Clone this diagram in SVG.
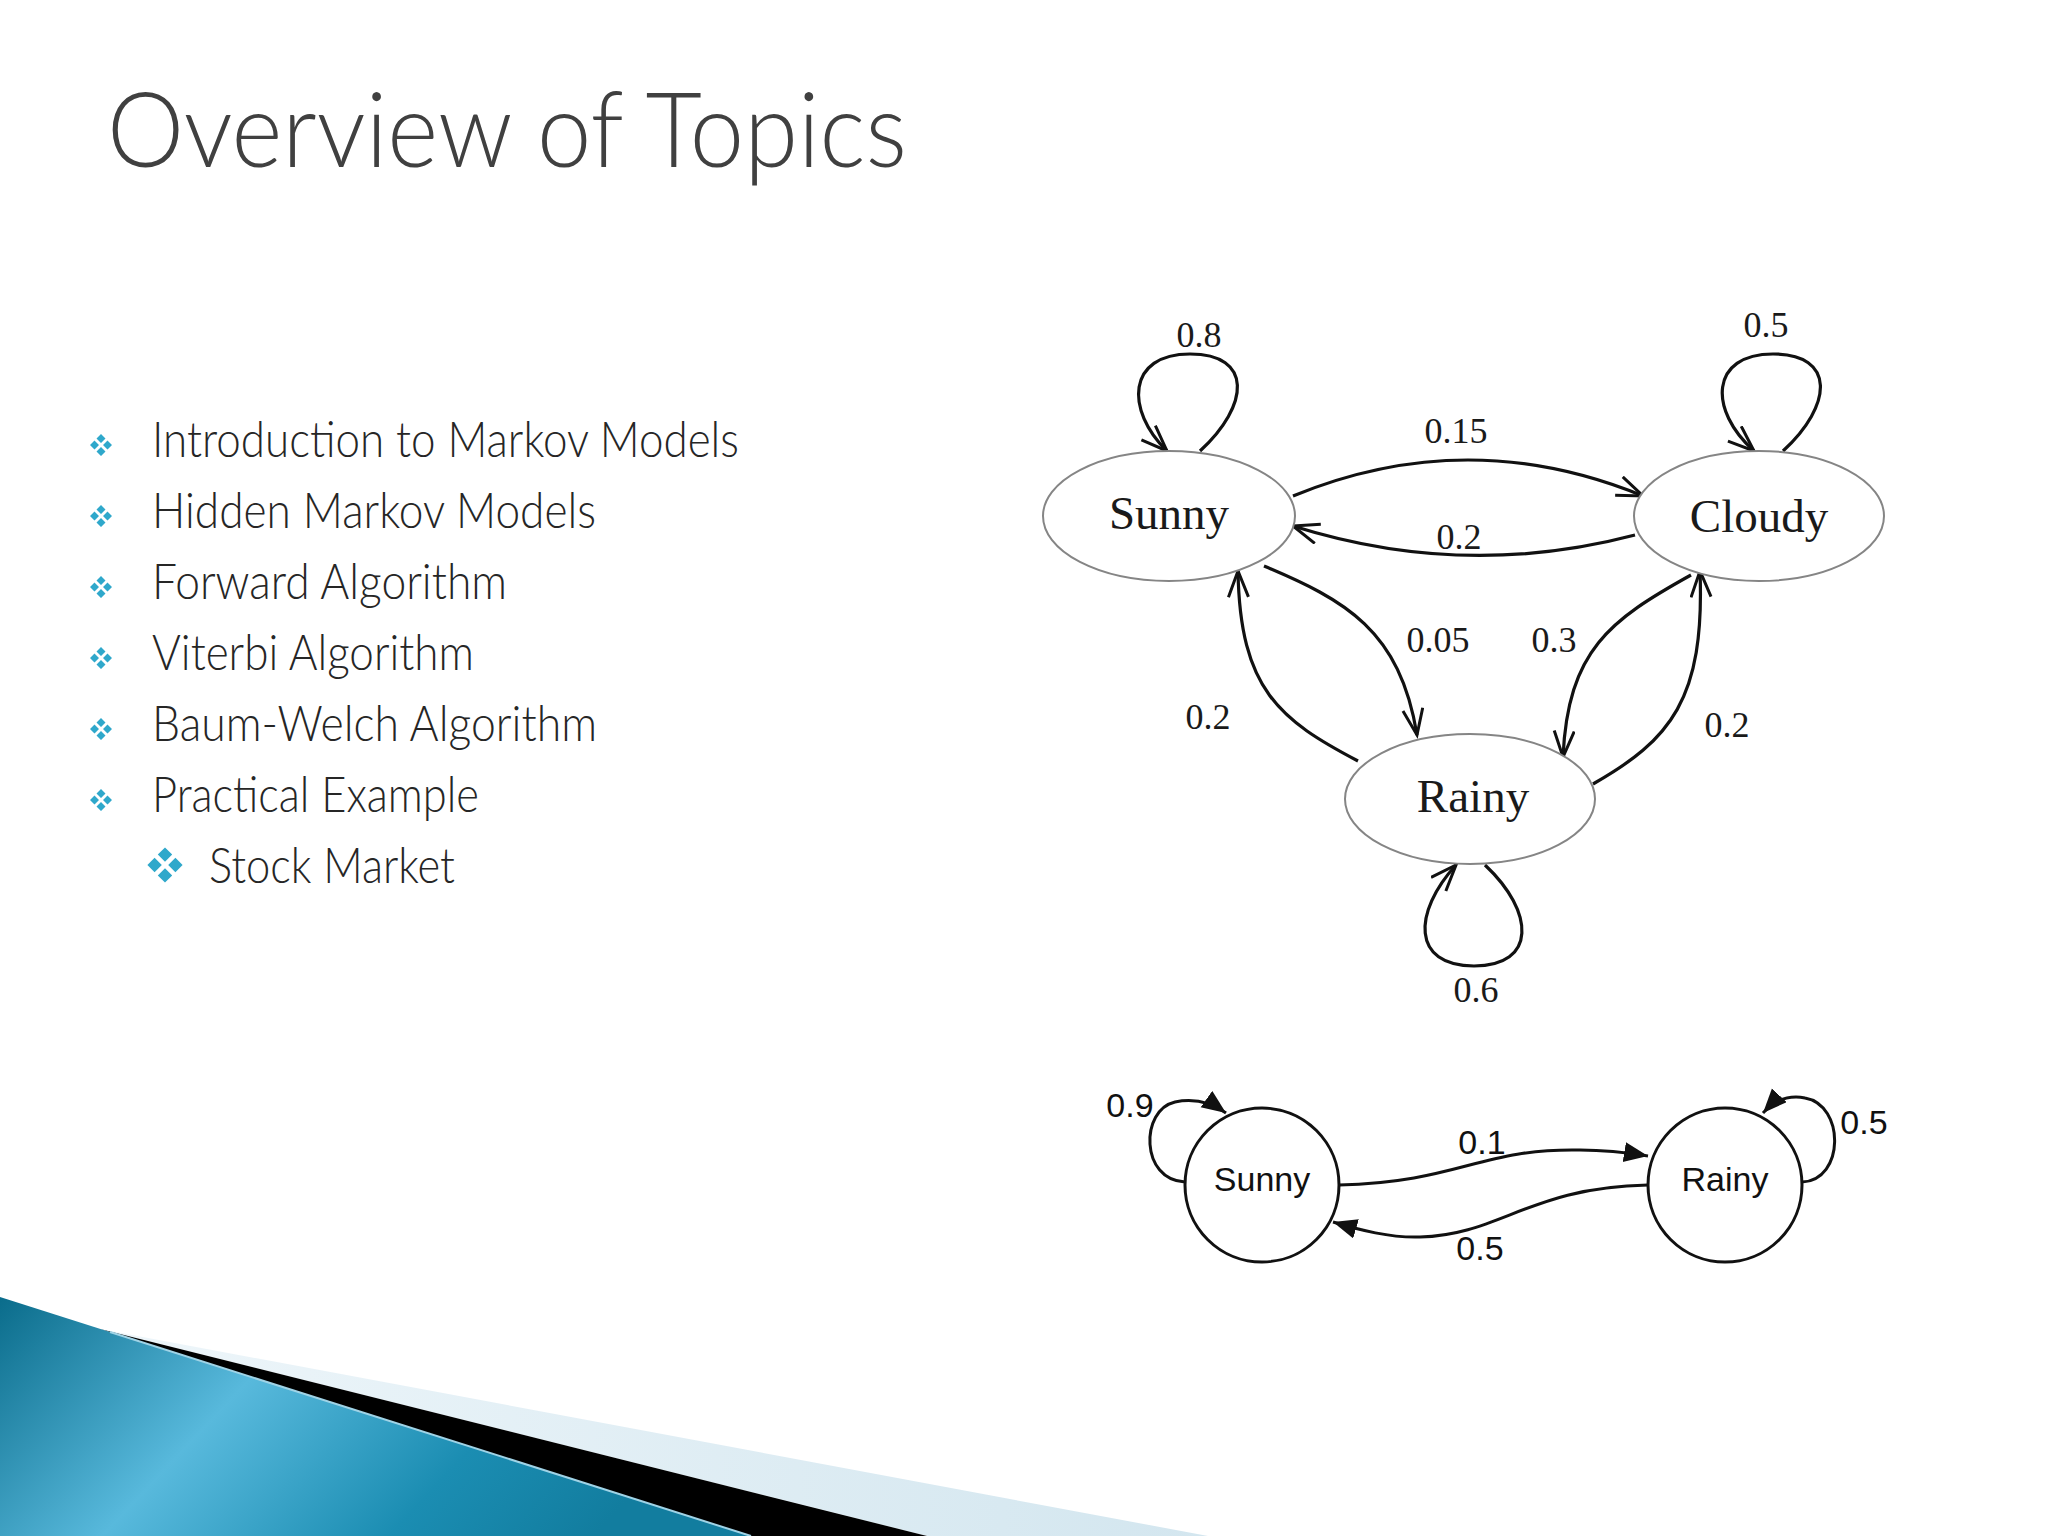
<svg xmlns="http://www.w3.org/2000/svg" width="2048" height="1536" viewBox="0 0 2048 1536">
<defs>
<style>
.title{font-family:Lato,"Open Sans","Liberation Sans",sans-serif;font-weight:300;font-size:104px;fill:#404040}
.item{font-family:Lato,"Open Sans","Liberation Sans",sans-serif;font-weight:300;font-size:49px;fill:#262626}
.bul{fill:#2fa8cb}
.ell{fill:#fff;stroke:#858585;stroke-width:2}
.nl{font-family:"Liberation Serif","Times New Roman",serif;font-size:47px;fill:#1a1a1a;text-anchor:middle}
.el{font-family:"Liberation Serif","Times New Roman",serif;font-size:36px;fill:#1a1a1a;text-anchor:middle}
.edge{fill:none;stroke:#111;stroke-width:3.2}
.e2{fill:none;stroke:#111;stroke-width:3}
.circ{fill:#fff;stroke:#111;stroke-width:3}
.nl2{font-family:"Liberation Sans",Arial,sans-serif;font-size:34px;fill:#111;text-anchor:middle}
</style>
<marker id="open" markerUnits="userSpaceOnUse" markerWidth="34" markerHeight="26" refX="27" refY="11" orient="auto">
<path d="M1,1 L27,11 L1,21" fill="none" stroke="#111" stroke-width="3"/>
</marker>
<marker id="solid" markerUnits="userSpaceOnUse" markerWidth="28" markerHeight="22" refX="24" refY="10" orient="auto">
<path d="M0,0 L24,10 L0,20 Z" fill="#111"/>
</marker>
<linearGradient id="teal" x1="0" y1="0" x2="1" y2="0.3">
<stop offset="0" stop-color="#0a6c8b"/>
<stop offset="0.4" stop-color="#58b9dc"/>
<stop offset="0.75" stop-color="#1b8db2"/>
<stop offset="1" stop-color="#127d9f"/>
</linearGradient>
<linearGradient id="pale" x1="0" y1="0" x2="1" y2="0">
<stop offset="0" stop-color="#eef6fa"/>
<stop offset="1" stop-color="#d3e6ef"/>
</linearGradient>
</defs>

<rect width="2048" height="1536" fill="#fff"/>

<g id="decoration">
<polygon points="100,1329 1208,1536 927,1536" fill="url(#pale)"/>
<polygon points="100,1329 927,1536 751,1536" fill="#000"/>
<polygon points="0,1297 751,1536 0,1536" fill="url(#teal)"/>
<line x1="110" y1="1332" x2="751" y2="1536" stroke="#9fd3e6" stroke-width="2"/>
</g>

<g id="title">
<text class="title" x="107" y="167" textLength="800" lengthAdjust="spacingAndGlyphs">Overview of Topics</text>
</g>

<g id="bullets">
<g class="bul">
<g transform="translate(101,445)"><path d="M0,-11 l4.5,4.5 l-4.5,4.5 l-4.5,-4.5z M0,2 l4.5,4.5 l-4.5,4.5 l-4.5,-4.5z M-6.5,-4.5 l4.5,4.5 l-4.5,4.5 l-4.5,-4.5z M6.5,-4.5 l4.5,4.5 l-4.5,4.5 l-4.5,-4.5z"/></g>
<g transform="translate(101,516)"><path d="M0,-11 l4.5,4.5 l-4.5,4.5 l-4.5,-4.5z M0,2 l4.5,4.5 l-4.5,4.5 l-4.5,-4.5z M-6.5,-4.5 l4.5,4.5 l-4.5,4.5 l-4.5,-4.5z M6.5,-4.5 l4.5,4.5 l-4.5,4.5 l-4.5,-4.5z"/></g>
<g transform="translate(101,587)"><path d="M0,-11 l4.5,4.5 l-4.5,4.5 l-4.5,-4.5z M0,2 l4.5,4.5 l-4.5,4.5 l-4.5,-4.5z M-6.5,-4.5 l4.5,4.5 l-4.5,4.5 l-4.5,-4.5z M6.5,-4.5 l4.5,4.5 l-4.5,4.5 l-4.5,-4.5z"/></g>
<g transform="translate(101,658)"><path d="M0,-11 l4.5,4.5 l-4.5,4.5 l-4.5,-4.5z M0,2 l4.5,4.5 l-4.5,4.5 l-4.5,-4.5z M-6.5,-4.5 l4.5,4.5 l-4.5,4.5 l-4.5,-4.5z M6.5,-4.5 l4.5,4.5 l-4.5,4.5 l-4.5,-4.5z"/></g>
<g transform="translate(101,729)"><path d="M0,-11 l4.5,4.5 l-4.5,4.5 l-4.5,-4.5z M0,2 l4.5,4.5 l-4.5,4.5 l-4.5,-4.5z M-6.5,-4.5 l4.5,4.5 l-4.5,4.5 l-4.5,-4.5z M6.5,-4.5 l4.5,4.5 l-4.5,4.5 l-4.5,-4.5z"/></g>
<g transform="translate(101,800)"><path d="M0,-11 l4.5,4.5 l-4.5,4.5 l-4.5,-4.5z M0,2 l4.5,4.5 l-4.5,4.5 l-4.5,-4.5z M-6.5,-4.5 l4.5,4.5 l-4.5,4.5 l-4.5,-4.5z M6.5,-4.5 l4.5,4.5 l-4.5,4.5 l-4.5,-4.5z"/></g>
<g transform="translate(165,865) scale(1.6)"><path d="M0,-11 l4.5,4.5 l-4.5,4.5 l-4.5,-4.5z M0,2 l4.5,4.5 l-4.5,4.5 l-4.5,-4.5z M-6.5,-4.5 l4.5,4.5 l-4.5,4.5 l-4.5,-4.5z M6.5,-4.5 l4.5,4.5 l-4.5,4.5 l-4.5,-4.5z"/></g>
</g>
<text class="item" x="152" y="457" textLength="587" lengthAdjust="spacingAndGlyphs">Introduction to Markov Models</text>
<text class="item" x="152" y="528" textLength="444" lengthAdjust="spacingAndGlyphs">Hidden Markov Models</text>
<text class="item" x="152" y="599" textLength="355" lengthAdjust="spacingAndGlyphs">Forward Algorithm</text>
<text class="item" x="152" y="670" textLength="322" lengthAdjust="spacingAndGlyphs">Viterbi Algorithm</text>
<text class="item" x="152" y="741" textLength="445" lengthAdjust="spacingAndGlyphs">Baum-Welch Algorithm</text>
<text class="item" x="152" y="812" textLength="327" lengthAdjust="spacingAndGlyphs">Practical Example</text>
<text class="item" x="209" y="883" textLength="246" lengthAdjust="spacingAndGlyphs">Stock Market</text>
</g>

<g id="connectors">
<path class="edge" marker-end="url(#open)" d="M1200,451 C1250,405 1253,354 1190,354 C1127,354 1125,410 1167,451"/>
<path class="edge" marker-end="url(#open)" d="M1783,451 C1833,405 1836,354 1773,354 C1710,354 1708,410 1754,451"/>
<path class="edge" marker-end="url(#open)" d="M1485,865 C1535,912 1537,966 1474,966 C1411,966 1413,912 1456,865"/>
<path class="edge" marker-end="url(#open)" d="M1293,496 Q1468,424 1643,496"/>
<path class="edge" marker-end="url(#open)" d="M1635,535 Q1464,580 1293,526"/>
<path class="edge" marker-end="url(#open)" d="M1264,566 C1345,600 1400,630 1417,735"/>
<path class="edge" marker-end="url(#open)" d="M1358,761 C1280,720 1240,690 1238,571"/>
<path class="edge" marker-end="url(#open)" d="M1691,575 C1610,620 1568,650 1563,757"/>
<path class="edge" marker-end="url(#open)" d="M1593,784 C1670,740 1705,700 1700,571"/>

<path class="e2" marker-end="url(#solid)" d="M1339,1185 C1460,1182 1480,1148 1580,1150 C1610,1150 1630,1153 1648,1156"/>
<path class="e2" marker-end="url(#solid)" d="M1648,1185 C1530,1187 1500,1235 1420,1237 C1390,1238 1360,1230 1333,1222"/>
<path class="e2" marker-end="url(#solid)" d="M1185,1182 C1140,1180 1140,1110 1175,1102 C1195,1098 1212,1103 1226,1113"/>
<path class="e2" marker-end="url(#solid)" d="M1802,1182 C1845,1180 1845,1105 1805,1098 C1790,1095 1775,1100 1763,1113"/>
</g>

<g id="edge-labels">
<text class="el" x="1199" y="347">0.8</text>
<text class="el" x="1766" y="337">0.5</text>
<text class="el" x="1456" y="443">0.15</text>
<text class="el" x="1459" y="549">0.2</text>
<text class="el" x="1438" y="652">0.05</text>
<text class="el" x="1554" y="652">0.3</text>
<text class="el" x="1208" y="729">0.2</text>
<text class="el" x="1727" y="737">0.2</text>
<text class="el" x="1476" y="1002">0.6</text>
<text class="nl2" x="1130" y="1117">0.9</text>
<text class="nl2" x="1864" y="1134">0.5</text>
<text class="nl2" x="1482" y="1154">0.1</text>
<text class="nl2" x="1480" y="1260">0.5</text>
</g>

<g id="node-sunny">
<ellipse class="ell" cx="1169" cy="516" rx="126" ry="65"/>
<text class="nl" x="1169" y="529">Sunny</text>
</g>
<g id="node-cloudy">
<ellipse class="ell" cx="1759" cy="516" rx="125" ry="65"/>
<text class="nl" x="1759" y="532">Cloudy</text>
</g>
<g id="node-rainy">
<ellipse class="ell" cx="1470" cy="799" rx="125" ry="65"/>
<text class="nl" x="1473" y="812">Rainy</text>
</g>
<g id="node-sunny2">
<circle class="circ" cx="1262" cy="1185" r="77"/>
<text class="nl2" x="1262" y="1191">Sunny</text>
</g>
<g id="node-rainy2">
<circle class="circ" cx="1725" cy="1185" r="77"/>
<text class="nl2" x="1725" y="1191">Rainy</text>
</g>
</svg>
